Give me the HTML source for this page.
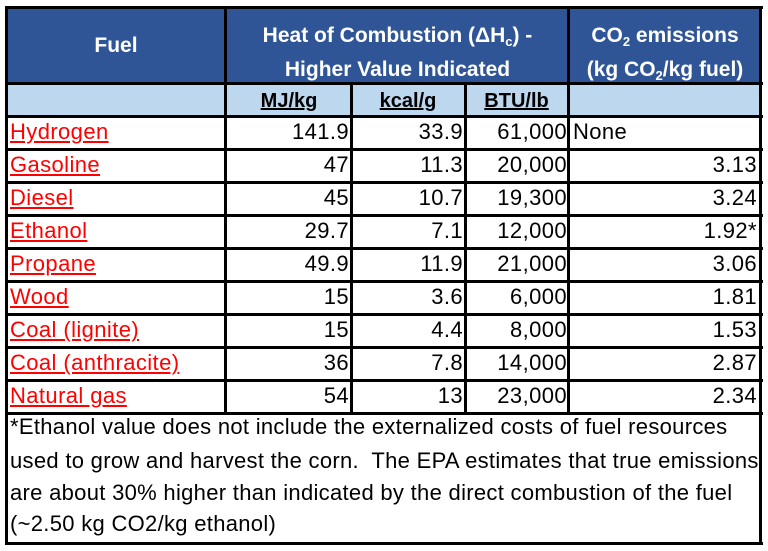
<!DOCTYPE html>
<html><head><meta charset="utf-8"><style>
*{margin:0;padding:0;box-sizing:border-box}
body{width:768px;height:551px;background:#fff;font-family:"Liberation Sans",sans-serif;position:relative;overflow:hidden}
.a{position:absolute}
.h{background:#2f5597;color:#fff;font-weight:bold;font-size:21px;text-align:center}
.h .l{position:absolute;left:0;right:0;line-height:24px}
.h sub{font-size:13px;line-height:0;vertical-align:-4px}
.s{background:#bdd7ee}
.ln{position:absolute;background:#000}
.c{position:absolute;font-size:22px;letter-spacing:0.4px;color:#000;white-space:nowrap;line-height:32px}
.r{text-align:right}
.f{color:#f00;text-decoration:underline}
.u{font-weight:bold;text-decoration:underline;font-size:20px;text-align:center;letter-spacing:0}
.fn{position:absolute;left:10px;font-size:22px;letter-spacing:0.3px;white-space:nowrap;line-height:32px}
</style></head><body>
<div class="a h" style="left:7px;top:8px;width:218px;height:75px;line-height:75px">Fuel</div>
<div class="a h" style="left:227px;top:8px;width:341px;height:75px"><div class="l" style="top:16px">Heat of Combustion (ΔH<sub>c</sub>) -</div><div class="l" style="top:50px">Higher Value Indicated</div></div>
<div class="a h" style="left:570px;top:8px;width:190px;height:75px"><div class="l" style="top:16px">CO<sub>2</sub> emissions</div><div class="l" style="top:50px">(kg CO<sub>2</sub>/kg fuel)</div></div>
<div class="a s" style="left:7px;top:84px;width:753px;height:32px"></div>
<div class="c u" style="left:227px;top:85px;width:124px">MJ/kg</div>
<div class="c u" style="left:351px;top:85px;width:114px">kcal/g</div>
<div class="c u" style="left:465px;top:85px;width:103px">BTU/lb</div>
<div id="rows"></div>
<div>
<div class="fn" style="top:411px">*Ethanol value does not include the externalized costs of fuel resources</div>
<div class="fn" style="top:445px">used to grow and harvest the corn.&nbsp; The EPA estimates that true emissions</div>
<div class="fn" style="top:477px">are about 30% higher than indicated by the direct combustion of the fuel</div>
<div class="fn" style="top:508px">(~2.50 kg CO2/kg ethanol)</div>
</div>
<script>
const fuels=["Hydrogen","Gasoline","Diesel","Ethanol","Propane","Wood","Coal (lignite)","Coal (anthracite)","Natural gas"];
const mj=["141.9","47","45","29.7","49.9","15","15","36","54"];
const kcal=["33.9","11.3","10.7","7.1","11.9","3.6","4.4","7.8","13"];
const btu=["61,000","20,000","19,300","12,000","21,000","6,000","8,000","14,000","23,000"];
const co2=["None","3.13","3.24","1.92*","3.06","1.81","1.53","2.87","2.34"];
const R=document.getElementById('rows');
function cell(txt,x,w,y,cls,name){const d=document.createElement('div');d.className='c '+cls;d.style.left=x+'px';d.style.width=w+'px';d.style.top=y+'px';d.textContent=txt;


R.appendChild(d);}
fuels.forEach((f,i)=>{const y=116+i*33;
cell(f,10,214,y,'f','fuel-link-'+i);
cell(mj[i],227,122,y,'r','mj-value-'+i);
cell(kcal[i],351,112,y,'r','kcal-value-'+i);
cell(btu[i],465,102,y,'r','btu-value-'+i);
cell(co2[i],573,184,y,i==0?'':'r','co2-value-'+i);});
function line(x,y,w,h,n){const d=document.createElement('div');d.className='ln';d.style.left=x+'px';d.style.top=y+'px';d.style.width=w+'px';d.style.height=h+'px';


document.body.appendChild(d);}
line(5,6,758,3,'border-top');line(5,6,3,539,'border-left');line(759,6,3,539,'border-right');line(5,542,758,3,'border-bottom');
line(5,82,758,3,'header-line');line(5,115,758,3,'subheader-line');
for(let i=1;i<=9;i++)line(5,115+i*33,758,3,'row-line-'+i);
line(224,6,3,408,'col-line-fuel');line(567,6,3,408,'col-line-co2');
line(350,83,3,331,'col-line-mj');line(464,83,3,331,'col-line-kcal');
</script>
</body></html>
